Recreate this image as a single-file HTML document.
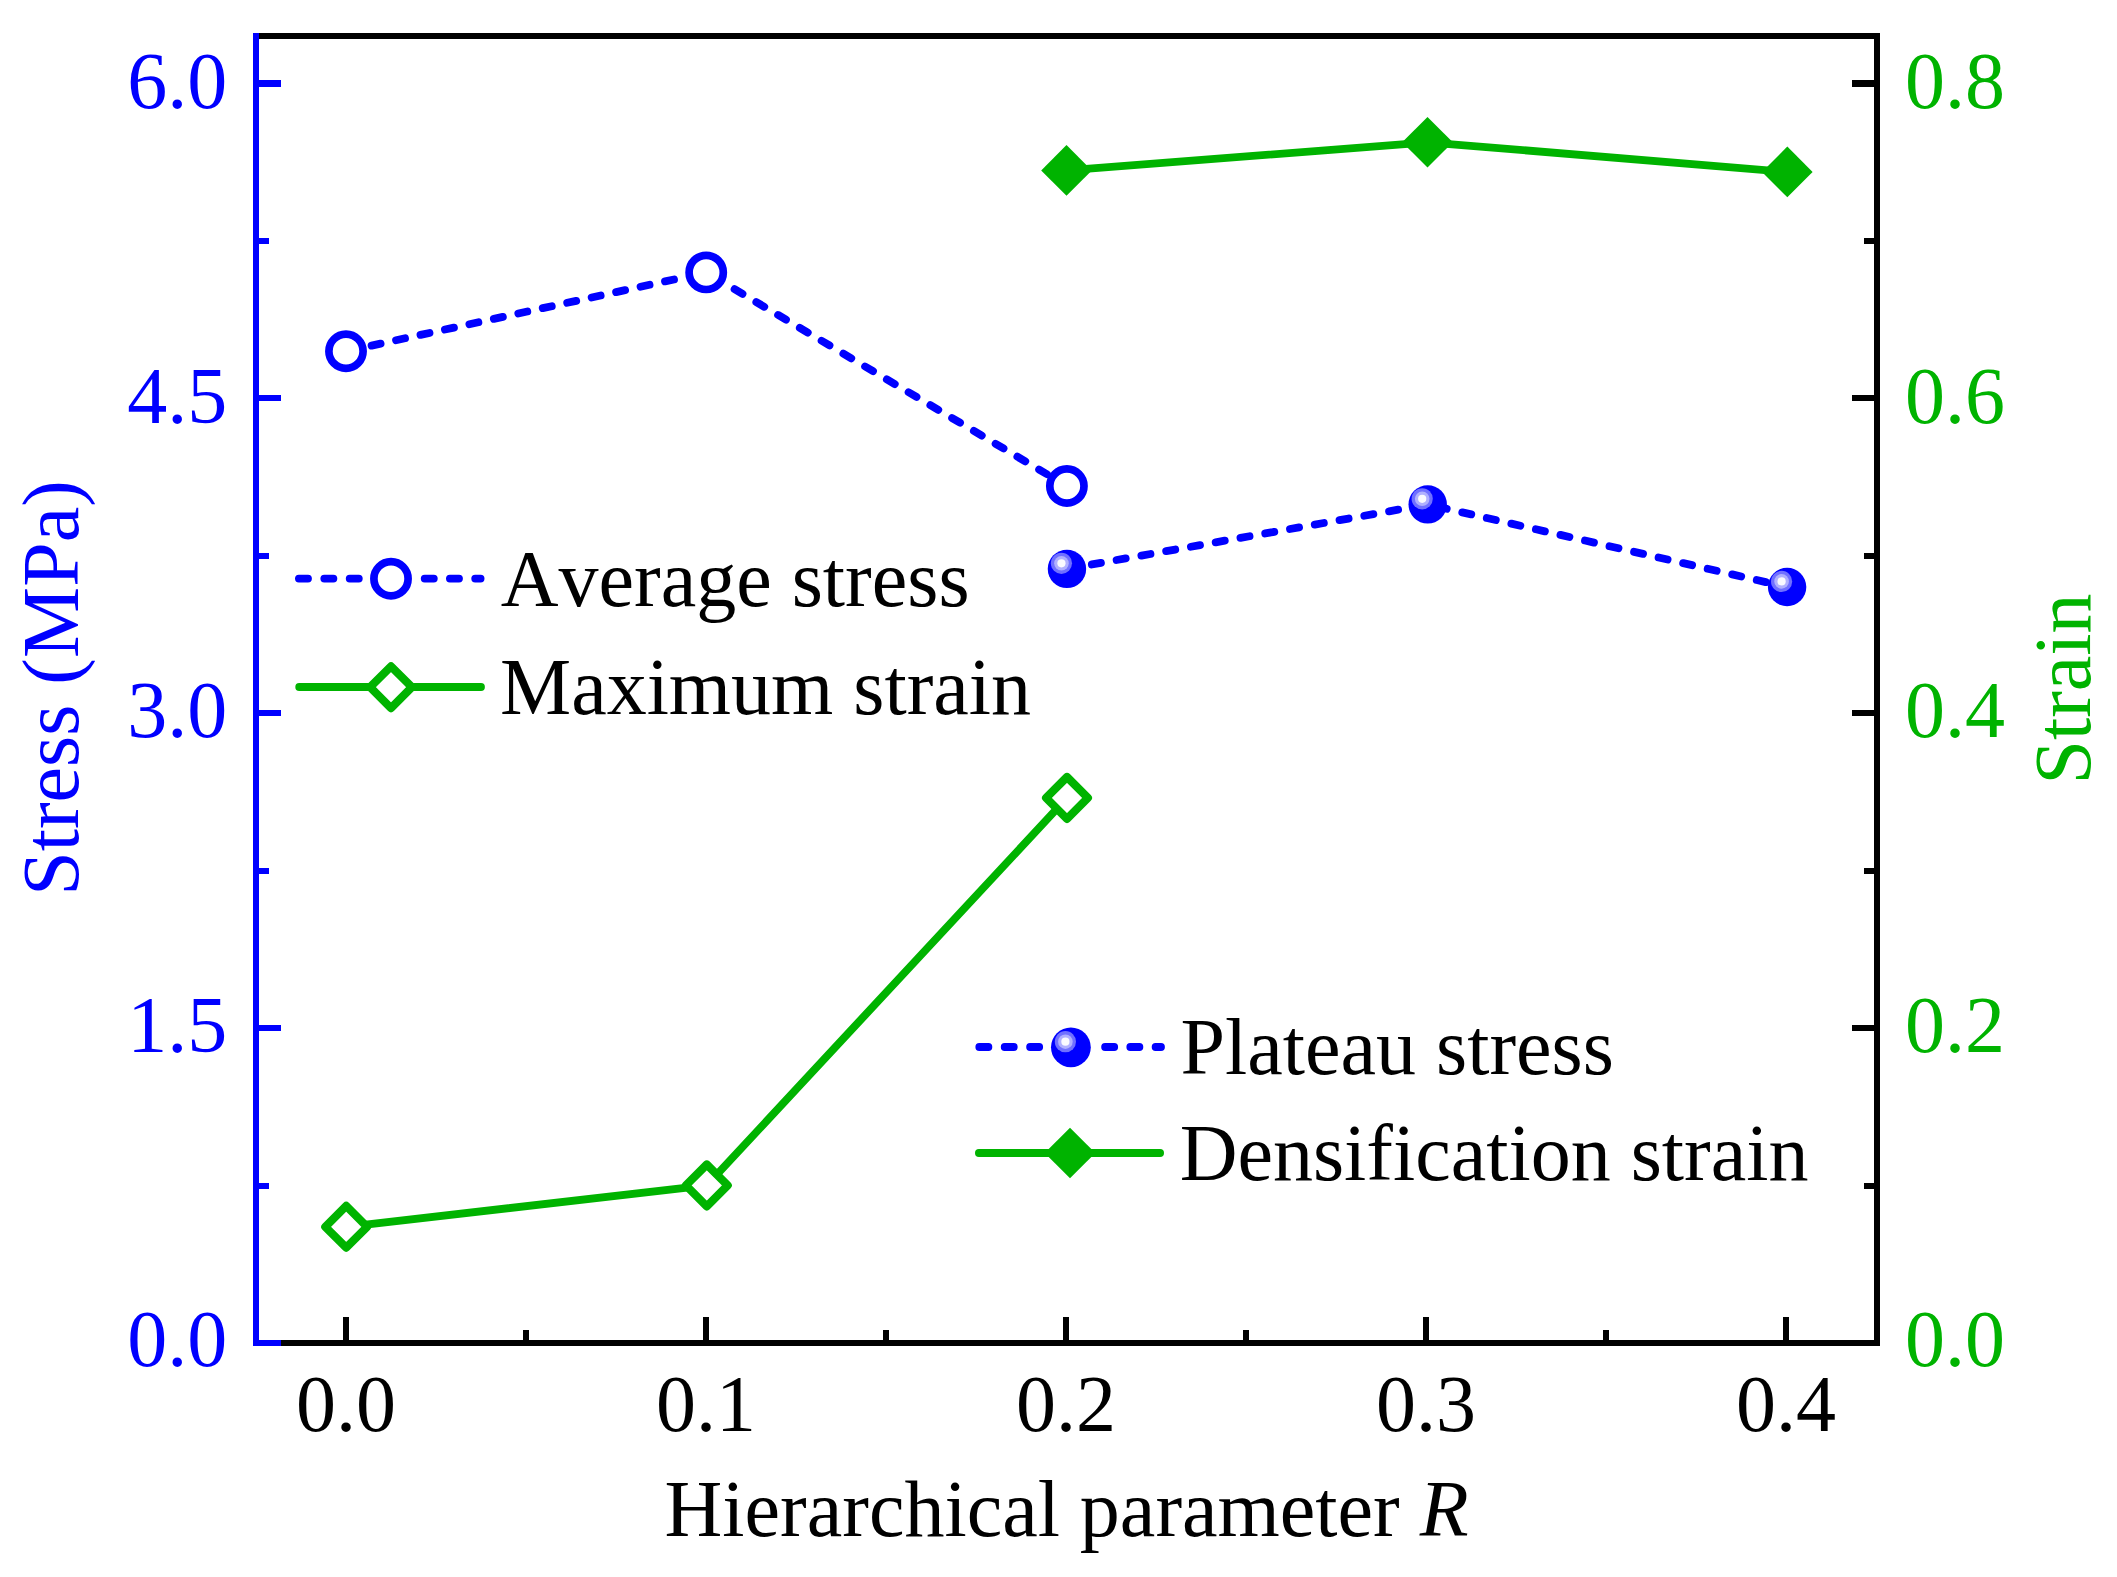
<!DOCTYPE html>
<html lang="en"><head><meta charset="utf-8"><title>Stress and strain vs hierarchical parameter R</title>
<style>html,body{margin:0;padding:0;background:#fff;}body{width:2117px;height:1577px;overflow:hidden;}svg{display:block;}text{font-family:"Liberation Serif",serif;font-size:80px;font-kerning:none;}</style></head><body>
<svg width="2117" height="1577" viewBox="0 0 2117 1577">
<rect x="0" y="0" width="2117" height="1577" fill="#fff"/>
<g id="series-lines">
<polyline points="346.2,1226.8 706.8,1185.4 1067.0,797.9" fill="none" stroke="#00B300" stroke-width="7.8" stroke-linejoin="round"/>
<polyline points="1066.5,170.4 1427.5,142.3 1787.3,171.9" fill="none" stroke="#00B300" stroke-width="7.8" stroke-linejoin="round"/>
<path d="M371.59 345.60L682.75 277.53" fill="none" stroke="#0000FF" stroke-width="7.8" stroke-linecap="round" stroke-dasharray="9.20 15.83"/>
<path d="M734.59 289.21L1051.41 476.83" fill="none" stroke="#0000FF" stroke-width="7.8" stroke-linecap="round" stroke-dasharray="9.20 16.08"/>
<path d="M1091.86 564.45L1406.04 508.27" fill="none" stroke="#0000FF" stroke-width="7.8" stroke-linecap="round" stroke-dasharray="9.20 15.96"/>
<path d="M1437.74 506.71L1777.35 584.76" fill="none" stroke="#0000FF" stroke-width="7.8" stroke-linecap="round" stroke-dasharray="9.20 15.98"/>
</g>
<g id="markers">
<circle cx="346.0" cy="351.2" r="17.1" fill="#fff" stroke="#0000FF" stroke-width="7.7"/>
<circle cx="706.2" cy="272.4" r="17.1" fill="#fff" stroke="#0000FF" stroke-width="7.7"/>
<circle cx="1066.9" cy="486.0" r="17.1" fill="#fff" stroke="#0000FF" stroke-width="7.7"/>
<g><circle cx="1066.95" cy="568.90" r="19.2" fill="#0000FF"/>
<circle cx="1061.45" cy="563.30" r="10.6" fill="#7070FF"/><circle cx="1061.45" cy="563.30" r="7.3" fill="#B0B0FF"/><circle cx="1061.45" cy="563.30" r="4.1" fill="#FAFAFF"/></g>
<g><circle cx="1427.70" cy="504.40" r="19.2" fill="#0000FF"/>
<circle cx="1422.20" cy="498.80" r="10.6" fill="#7070FF"/><circle cx="1422.20" cy="498.80" r="7.3" fill="#B0B0FF"/><circle cx="1422.20" cy="498.80" r="4.1" fill="#FAFAFF"/></g>
<g><circle cx="1787.10" cy="587.00" r="19.2" fill="#0000FF"/>
<circle cx="1781.60" cy="581.40" r="10.6" fill="#7070FF"/><circle cx="1781.60" cy="581.40" r="7.3" fill="#B0B0FF"/><circle cx="1781.60" cy="581.40" r="4.1" fill="#FAFAFF"/></g>
<path d="M346.2 1205.9L367.1 1226.8L346.2 1247.7L325.3 1226.8Z" fill="#fff" stroke="#00B300" stroke-width="8.2" stroke-linejoin="round"/>
<path d="M706.8 1164.5L727.7 1185.4L706.8 1206.3L685.9 1185.4Z" fill="#fff" stroke="#00B300" stroke-width="8.2" stroke-linejoin="round"/>
<path d="M1067.0 777.0L1087.9 797.9L1067.0 818.8L1046.1 797.9Z" fill="#fff" stroke="#00B300" stroke-width="8.2" stroke-linejoin="round"/>
<path d="M1066.5 145.1L1091.8 170.4L1066.5 195.7L1041.2 170.4Z" fill="#00B300"/>
<path d="M1427.5 117.0L1452.8 142.3L1427.5 167.6L1402.2 142.3Z" fill="#00B300"/>
<path d="M1787.3 146.6L1812.6 171.9L1787.3 197.2L1762.0 171.9Z" fill="#00B300"/>
</g>
<g id="axes" shape-rendering="crispEdges">
<rect x="259" y="33" width="1621" height="6" fill="#000"/>
<rect x="1874" y="33" width="6" height="1313" fill="#000"/>
<rect x="259" y="1340" width="1621" height="6" fill="#000"/>
<rect x="343.0" y="1317" width="6" height="23" fill="#000"/>
<rect x="703.0" y="1317" width="6" height="23" fill="#000"/>
<rect x="1063.0" y="1317" width="6" height="23" fill="#000"/>
<rect x="1423.0" y="1317" width="6" height="23" fill="#000"/>
<rect x="1783.0" y="1317" width="6" height="23" fill="#000"/>
<rect x="523.0" y="1330" width="6" height="10" fill="#000"/>
<rect x="883.0" y="1330" width="6" height="10" fill="#000"/>
<rect x="1243.0" y="1330" width="6" height="10" fill="#000"/>
<rect x="1603.0" y="1330" width="6" height="10" fill="#000"/>
<rect x="1852" y="80.0" width="22" height="7" fill="#000"/>
<rect x="1852" y="395.0" width="22" height="6" fill="#000"/>
<rect x="1852" y="710.0" width="22" height="6" fill="#000"/>
<rect x="1852" y="1025.0" width="22" height="6" fill="#000"/>
<rect x="1864" y="238.0" width="10" height="6" fill="#000"/>
<rect x="1864" y="553.0" width="10" height="6" fill="#000"/>
<rect x="1864" y="868.0" width="10" height="6" fill="#000"/>
<rect x="1864" y="1183.0" width="10" height="6" fill="#000"/>
<rect x="253" y="33" width="6" height="1313" fill="#0000FF"/>
<rect x="259" y="80.0" width="22" height="7" fill="#0000FF"/>
<rect x="259" y="395.0" width="22" height="6" fill="#0000FF"/>
<rect x="259" y="710.0" width="22" height="6" fill="#0000FF"/>
<rect x="259" y="1025.0" width="22" height="6" fill="#0000FF"/>
<rect x="259" y="1340.0" width="22" height="6" fill="#0000FF"/>
<rect x="259" y="238.0" width="10" height="6" fill="#0000FF"/>
<rect x="259" y="553.0" width="10" height="6" fill="#0000FF"/>
<rect x="259" y="868.0" width="10" height="6" fill="#0000FF"/>
<rect x="259" y="1183.0" width="10" height="6" fill="#0000FF"/>
</g>
<g id="ticklabels">
<text x="227.3" y="108.0" text-anchor="end" fill="#0000FF">6.0</text>
<text x="227.3" y="422.5" text-anchor="end" fill="#0000FF">4.5</text>
<text x="227.3" y="737.0" text-anchor="end" fill="#0000FF">3.0</text>
<text x="227.3" y="1051.5" text-anchor="end" fill="#0000FF">1.5</text>
<text x="227.3" y="1366.0" text-anchor="end" fill="#0000FF">0.0</text>
<text x="1905" y="108.0" fill="#00B300">0.8</text>
<text x="1905" y="422.5" fill="#00B300">0.6</text>
<text x="1905" y="737.0" fill="#00B300">0.4</text>
<text x="1905" y="1051.5" fill="#00B300">0.2</text>
<text x="1905" y="1366.0" fill="#00B300">0.0</text>
<text x="346.0" y="1431" text-anchor="middle" fill="#000">0.0</text>
<text x="706.0" y="1431" text-anchor="middle" fill="#000">0.1</text>
<text x="1066.0" y="1431" text-anchor="middle" fill="#000">0.2</text>
<text x="1426.0" y="1431" text-anchor="middle" fill="#000">0.3</text>
<text x="1786.0" y="1431" text-anchor="middle" fill="#000">0.4</text>
</g>
<text x="664.6" y="1536" fill="#000">Hierarchical parameter <tspan font-style="italic">R</tspan></text>
<text transform="translate(77.7 688) rotate(-90)" text-anchor="middle" fill="#0000FF">Stress (MPa)</text>
<text transform="translate(2089.5 689) rotate(-90)" text-anchor="middle" fill="#00B300">Strain</text>
<g id="legend">
<path d="M298.90 578.60h9.10M324.30 578.60h9.10M349.70 578.60h9.10M424.70 578.60h9.10M449.90 578.60h9.10M475.20 578.60h5.40" fill="none" stroke="#0000FF" stroke-width="7.8" stroke-linecap="round"/>
<circle cx="391.0" cy="578.7" r="17.1" fill="#fff" stroke="#0000FF" stroke-width="7.7"/>
<text x="500.8" y="606" fill="#000">Average stress</text>
<path d="M299.20 687.00L481.00 687.00" fill="none" stroke="#00B300" stroke-width="7.8" stroke-linecap="round"/>
<path d="M391.0 666.3L411.9 687.2L391.0 708.1L370.1 687.2Z" fill="#fff" stroke="#00B300" stroke-width="8.2" stroke-linejoin="round"/>
<text x="500" y="713.6" fill="#000">Maximum strain</text>
<path d="M979.30 1047.00h9.10M1004.70 1047.00h9.10M1030.10 1047.00h9.10M1105.10 1047.00h9.10M1130.30 1047.00h9.10M1155.60 1047.00h5.40" fill="none" stroke="#0000FF" stroke-width="7.8" stroke-linecap="round"/>
<g><circle cx="1070.90" cy="1047.30" r="19.9" fill="#0000FF"/>
<circle cx="1065.40" cy="1041.70" r="10.6" fill="#7070FF"/><circle cx="1065.40" cy="1041.70" r="7.3" fill="#B0B0FF"/><circle cx="1065.40" cy="1041.70" r="4.1" fill="#FAFAFF"/></g>
<text x="1180.6" y="1073.8" fill="#000">Plateau stress</text>
<path d="M978.90 1153.00L1160.10 1153.00" fill="none" stroke="#00B300" stroke-width="7.8" stroke-linecap="round"/>
<path d="M1070.0 1127.7L1095.3 1153.0L1070.0 1178.3L1044.7 1153.0Z" fill="#00B300"/>
<text x="1179.7" y="1179.6" fill="#000">Densification strain</text>
</g>
</svg></body></html>
